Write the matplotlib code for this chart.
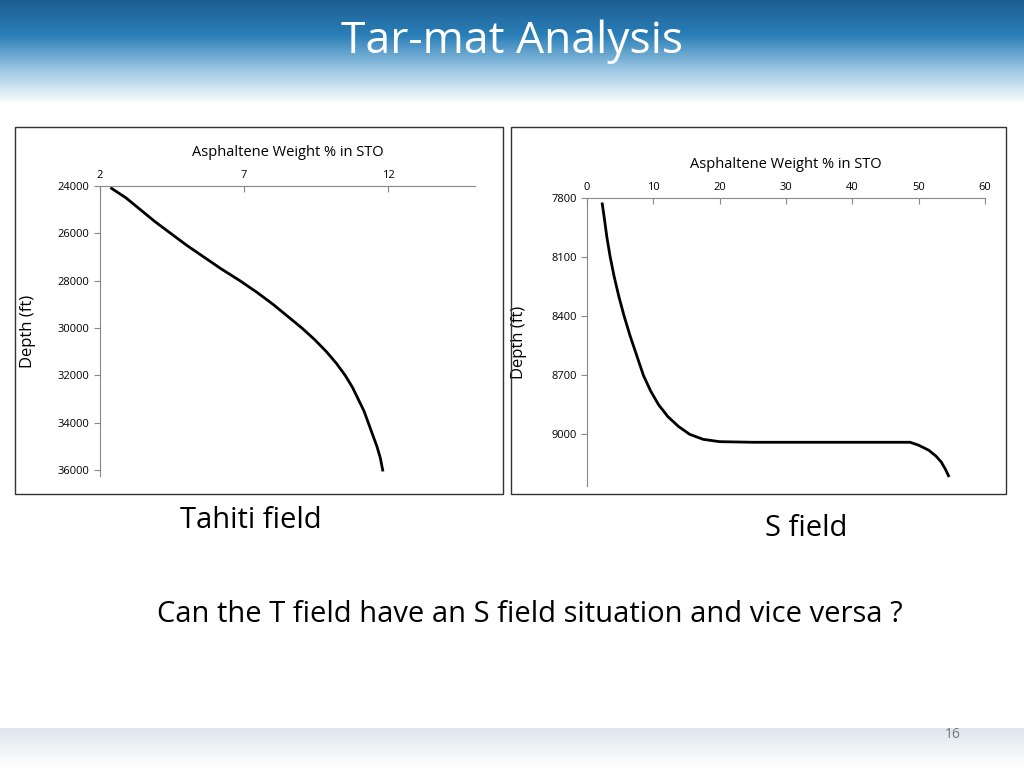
import numpy as np
import matplotlib.pyplot as plt
from matplotlib.patches import Rectangle
from matplotlib.colors import LinearSegmentedColormap

plt.rcParams['font.family'] = ['Open Sans', 'DejaVu Sans']

# Tahiti field
t_asph = [2.4, 2.9, 3.4, 3.9, 4.45, 5.0, 5.6, 6.2, 6.85, 7.45, 8.0, 8.5, 9.0, 9.45, 9.85, 10.2, 10.5,
          10.75, 10.95, 11.15, 11.3, 11.45, 11.6, 11.72, 11.8]
t_depth = [24100, 24500, 25000, 25500, 26000, 26500, 27000, 27500, 28000, 28500, 29000, 29500, 30000,
           30500, 31000, 31500, 32000, 32500, 33000, 33500, 34000, 34500, 35000, 35500, 36000]
t_xticks = [2, 7, 12]
t_yticks = [24000, 26000, 28000, 30000, 32000, 34000, 36000]

# S field
s_asph = [2.3, 2.6, 3.0, 3.5, 4.1, 4.8, 5.6, 6.5, 7.5, 8.5, 9.6, 10.8, 12.2, 13.8, 15.5, 17.5,
          20.0, 25.0, 35.0, 45.0, 48.7, 50.0, 51.5, 52.6, 53.4, 54.0, 54.5]
s_depth = [7830, 7900, 8000, 8100, 8200, 8300, 8400, 8500, 8600, 8700, 8780, 8850, 8910, 8960,
           9000, 9025, 9037, 9040, 9040, 9040, 9040, 9055, 9080, 9110, 9140, 9175, 9210]
s_xticks = [0, 10, 20, 30, 40, 50, 60]
s_yticks = [7800, 8100, 8400, 8700, 9000]

fig = plt.figure(figsize=(10.24, 7.68), dpi=100)
W, H = 1024, 768

def fx(px): return px / W
def fy(py): return 1 - py / H

# header band
grad = np.linspace(0, 1, 100).reshape(-1, 1)
hax = fig.add_axes([0, fy(105), 1, 105 / H])
hax.imshow(grad, aspect='auto', extent=[0, 1, 0, 1],
           cmap=LinearSegmentedColormap.from_list('h', ['#1d5f93', '#2a7fb8', '#9cc7e3', '#ffffff']))
hax.axis('off')
fig.text(0.5, fy(42), 'Tar-mat Analysis', color='white', fontsize=32, ha='center', va='center')

# bottom band
bax = fig.add_axes([0, 0, 1, 40 / H])
bax.imshow(grad[::-1], aspect='auto', extent=[0, 1, 0, 1],
           cmap=LinearSegmentedColormap.from_list('b', ['#ffffff', '#dde6ee']))
bax.axis('off')

# chart frames
for x0, x1 in [(15, 503), (511, 1006)]:
    fig.patches.append(Rectangle((fx(x0), fy(494)), fx(x1 - x0), (494 - 127) / H,
                                 transform=fig.transFigure, fill=False, ec='#333333', lw=1))

def style(ax, xticks, yticks, title, ylab, pad):
    ax.xaxis.tick_top()
    ax.xaxis.set_label_position('top')
    ax.set_xticks(xticks)
    ax.set_yticks(yticks)
    ax.tick_params(labelsize=8, length=4, color='#888888', direction='in')
    ax.tick_params(axis='y', direction='out')
    for s in ['right', 'bottom']:
        ax.spines[s].set_visible(False)
    for s in ['top', 'left']:
        ax.spines[s].set_color('#888888')
    ax.set_xlabel(title, fontsize=10.5, labelpad=pad)
    ax.set_ylabel(ylab, fontsize=12)

# left
ax1 = fig.add_axes([fx(100), fy(476), fx(375), (476 - 186) / H])
ax1.plot(t_asph, t_depth, color='black', lw=2)
ax1.set_xlim(2, 15.0)
ax1.set_ylim(36250, 24000)
style(ax1, t_xticks, t_yticks, 'Asphaltene Weight % in STO', 'Depth (ft)', 10)
ax1.yaxis.set_label_coords(-0.17, 0.5)

# right
ax2 = fig.add_axes([fx(587), fy(486), fx(398), (486 - 198) / H])
ax2.plot(s_asph, s_depth, color='black', lw=2)
ax2.set_xlim(0, 60)
ax2.set_ylim(9262, 7800)
style(ax2, s_xticks, s_yticks, 'Asphaltene Weight % in STO', 'Depth (ft)', 10)
ax2.yaxis.set_label_coords(-0.15, 0.5)

fig.text(fx(251), fy(521), 'Tahiti field', fontsize=21, ha='center', va='center')
fig.text(fx(806), fy(528), 'S field', fontsize=21, ha='center', va='center')
fig.text(fx(530), fy(615), 'Can the T field have an S field situation and vice versa ?',
         fontsize=21, ha='center', va='center')
fig.text(fx(953), fy(735), '16', fontsize=10, color='#777777', ha='center', va='center')

fig.savefig('out.png', dpi=100)
